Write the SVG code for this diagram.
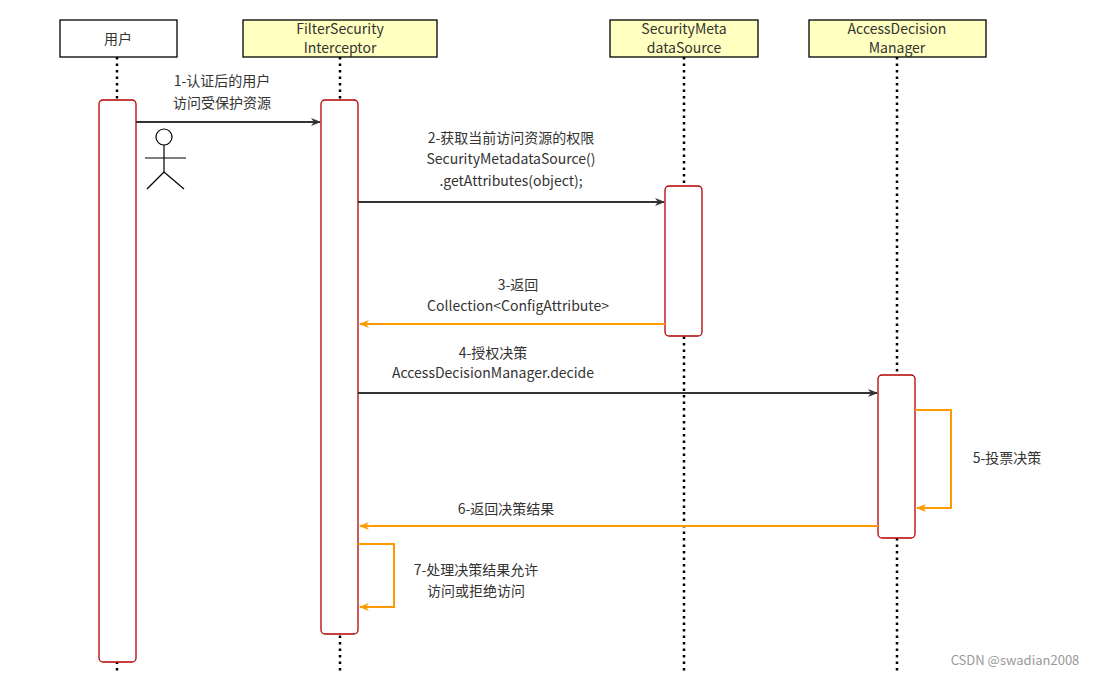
<svg xmlns="http://www.w3.org/2000/svg" width="1112" height="675" viewBox="0 0 1112 675">
<defs>
<style>
text{font-family:"Noto Sans CJK SC","Noto Sans",sans-serif;font-size:14px;fill:#333;text-anchor:middle}
.head{stroke:#000;stroke-width:1.3}
.life{stroke:#000;stroke-width:2.5;stroke-dasharray:2.5 4;fill:none}
.act{fill:#fff;stroke:#b20000;stroke-width:1.3}
.dk{stroke:#333;stroke-width:2;fill:none;marker-end:url(#ad)}
.or{stroke:#ff9900;stroke-width:2;fill:none;marker-end:url(#ao)}
</style>
<marker id="ad" markerWidth="10" markerHeight="8" refX="9" refY="4" orient="auto" markerUnits="userSpaceOnUse"><path d="M0,0 L10,4 L0,8 L3,4 z" fill="#333"/></marker>
<marker id="ao" markerWidth="10" markerHeight="8" refX="9" refY="4" orient="auto" markerUnits="userSpaceOnUse"><path d="M0,0 L10,4 L0,8 L3,4 z" fill="#ff9900"/></marker>
</defs>
<rect width="1112" height="675" fill="#fff"/>
<g id="user">
<rect class="head" x="60" y="20" width="117" height="37" fill="#fff"/>
<text x="118" y="44">用户</text>
<line class="life" x1="117" y1="57" x2="117" y2="672"/>
<rect class="act" x="99" y="100" width="37" height="562" rx="4"/>
<g stroke="#000" stroke-width="1.2" fill="none"><circle cx="164" cy="137" r="8"/><line x1="164" y1="145" x2="164" y2="172"/><line x1="145" y1="158" x2="186" y2="158"/><line x1="164" y1="172" x2="147" y2="189"/><line x1="164" y1="172" x2="184" y2="189"/></g>
</g>
<g id="fsi">
<rect class="head" x="243" y="20" width="194" height="37" fill="#ffffc0"/>
<text x="340" y="34">FilterSecurity</text><text x="340" y="53">Interceptor</text>
<line class="life" x1="340" y1="57" x2="340" y2="672"/>
<rect class="act" x="321" y="100" width="37" height="534" rx="4"/>
</g>
<g id="smds">
<rect class="head" x="610" y="20" width="148" height="37" fill="#ffffc0"/>
<text x="684" y="34">SecurityMeta</text><text x="684" y="53">dataSource</text>
<line class="life" x1="684" y1="57" x2="684" y2="672"/>
<rect class="act" x="665" y="186" width="37" height="150" rx="4"/>
</g>
<g id="adm">
<rect class="head" x="809" y="20" width="177" height="37" fill="#ffffc0"/>
<text x="897" y="34">AccessDecision</text><text x="897" y="53">Manager</text>
<line class="life" x1="897" y1="57" x2="897" y2="672"/>
<rect class="act" x="878" y="375" width="37" height="163" rx="4"/>
</g>
<g id="connectors">
<path class="dk" d="M136,122 H320"/>
<text x="222" y="86">1-认证后的用户</text><text x="222" y="108">访问受保护资源</text>
<path class="dk" d="M358,202 H664"/>
<text x="511" y="143">2-获取当前访问资源的权限</text><text x="511" y="164">SecurityMetadataSource()</text><text x="511" y="186">.getAttributes(object);</text>
<path class="or" d="M665,324 H360"/>
<text x="518" y="290">3-返回</text><text x="518" y="311">Collection&lt;ConfigAttribute&gt;</text>
<path class="dk" d="M358,393 H877"/>
<text x="493" y="358">4-授权决策</text><text x="493" y="378">AccessDecisionManager.decide</text>
<path class="or" d="M915,410 H951 V508 H917"/>
<text x="1007" y="463">5-投票决策</text>
<path class="or" d="M878,526 H360"/>
<text x="506" y="514">6-返回决策结果</text>
<path class="or" d="M358,544 H394 V607 H360"/>
<text x="476" y="575">7-处理决策结果允许</text><text x="476" y="596">访问或拒绝访问</text>
</g>
<text x="1015" y="665" style="fill:#999;font-size:13px">CSDN @swadian2008</text>
</svg>
